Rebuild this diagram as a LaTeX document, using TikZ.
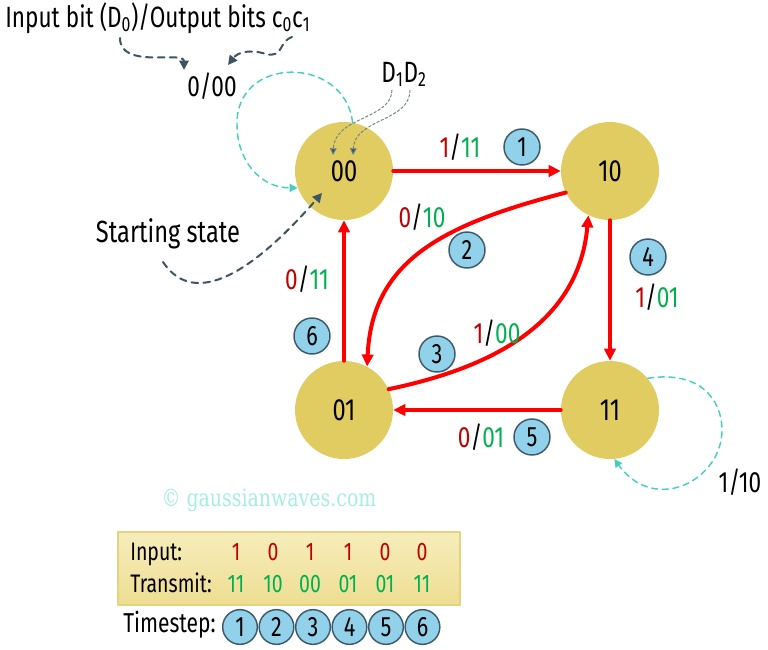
\documentclass[tikz,border=0pt]{standalone}
\usepackage{fontspec}
\setmainfont{Fira Sans}[FakeStretch=0.77]
\newfontfamily\markfont{DejaVu Serif}[FakeStretch=0.79]
\usetikzlibrary{arrows.meta}
\newcommand{\iobits}[2]{\textcolor{bitred}{#1}/\textcolor{bitgreen}{#2}}

\begin{document}
\begin{tikzpicture}[x=0.75pt,y=-0.75pt,line cap=round,line join=round,
  state/.style={circle,fill=statefill,minimum size=73.5pt,inner sep=0pt,font=\fontsize{23}{23}\selectfont},
  stepball/.style={circle,fill=stepfill,draw=stepedge,line width=1.1pt,minimum size=27pt,inner sep=0pt,font=\fontsize{21}{21}\selectfont},
  bits/.style={anchor=base,inner sep=0pt,font=\fontsize{22}{22}\selectfont},
  tabval/.style={anchor=base,inner sep=0pt,font=\fontsize{19}{19}\selectfont},
  trans/.style={draw=edgered,line width=3pt,-{Triangle[length=9pt,width=8.5pt]}},
  selfloop/.style={draw=loopcyan,line width=1.1pt,dash pattern=on 4.5pt off 3.5pt,-{Triangle[length=6pt,width=6pt]}},
  note/.style={draw=notegray,line width=1.5pt,dash pattern=on 5pt off 4pt,-{Triangle[length=7pt,width=7pt]}},
  regnote/.style={draw=notegray!75,line width=0.7pt,dash pattern=on 2pt off 1.5pt,-{Triangle[length=5pt,width=5pt,fill=notegray]}}]
\definecolor{statefill}{HTML}{E0CC60}
\definecolor{edgered}{HTML}{FF0000}
\definecolor{bitred}{HTML}{C00000}
\definecolor{bitgreen}{HTML}{00B050}
\definecolor{stepfill}{HTML}{92D1EA}
\definecolor{stepedge}{HTML}{3D5A6C}
\definecolor{loopcyan}{HTML}{45D0BE}
\definecolor{notegray}{HTML}{3D5461}
\definecolor{tabletop}{HTML}{F6EDBB}
\definecolor{tablebot}{HTML}{EEDD92}
\definecolor{tableedge}{HTML}{E3D27F}
\definecolor{markcyan}{HTML}{A6EDE2}

\useasboundingbox (0,0) rectangle (768,650);

% states
\node[state] (s00) at (344,171) {00};
\node[state] (s10) at (610,171) {10};
\node[state] (s01) at (344,410) {01};
\node[state] (s11) at (610,410) {11};

% transitions
\draw[trans] (s00) -- (s10);
\draw[trans] (s10) -- (s11);
\draw[trans] (s11) -- (s01);
\draw[trans] (s01) -- (s00);
\draw[trans] (s10.206) .. controls (440,225) and (372,262) .. (s01.62);
\draw[trans] (s01.25) .. controls (480,370) and (578,330) .. (s10.244);

% self loops
\draw[selfloop] (s00.80) .. controls (345,55) and (235,55) .. (237,125)
  .. controls (237,160) and (260,188) .. (s00.200);
\draw[selfloop] (s11.40) .. controls (700,370) and (722,400) .. (722,430)
  .. controls (722,480) and (655,515) .. (s11.-85);

% edge labels
\node[bits] (lab1) at (460,157) {\iobits{1}{11}};
\node[bits] (lab2) at (422,227) {\iobits{0}{10}};
\node[bits] (lab3) at (497,343) {\iobits{1}{00}};
\node[bits] (lab4) at (657,307) {\iobits{1}{01}};
\node[bits] (lab5) at (481,447) {\iobits{0}{01}};
\node[bits] (lab6) at (307,289) {\iobits{0}{11}};
\node[bits] (lab7) at (740,492) {1/10};
\node[bits] (lab8) at (212,96) {0/00};

% time steps on the edges
\foreach \n/\x/\y in {1/522/147,2/467/250,3/437/354,4/648/257,5/532/437,6/312/336}
  \node[stepball] (k\n) at (\x,\y) {\n};

% notes
\node[anchor=base west,inner sep=0pt,font=\fontsize{22}{22}\selectfont] (ttl) at (5,27)
  {Input bit (D\textsubscript{0})/Output bits c\textsubscript{0}c\textsubscript{1}};
\node[bits] (dlbl) at (404,82) {D\textsubscript{1}D\textsubscript{2}};
\node[anchor=base,inner sep=0pt,font=\fontsize{23}{23}\selectfont] (startlbl) at (168,242) {Starting state};

\coordinate (d0foot) at (120,38);
\coordinate (c1foot) at (292,37);
\coordinate (tip0) at (184,70);
\coordinate (tip1) at (228,65);
\coordinate (d1in) at (333,155);
\coordinate (d2in) at (353,155);
\coordinate (startin) at (322,193);

\draw[note] (d0foot) .. controls (120,70) and (184,50) .. (tip0);
\draw[note] (c1foot) .. controls (278,42) and (284,58) .. (266,54)
  .. controls (250,49) and (238,52) .. (tip1);
\draw[note] ([shift={(-5,20)}]startlbl.base) .. controls (195,310) and (255,270) .. (startin);
\draw[regnote] ([shift={(-12,8)}]dlbl.base) .. controls (391,120) and (335,116) .. (d1in);
\draw[regnote] ([shift={(6,8)}]dlbl.base) .. controls (410,122) and (355,118) .. (d2in);

% watermark
\node[text=markcyan,font=\markfont\fontsize{18}{18}\selectfont,anchor=base] (mark) at (269,506) {\textcopyright{} gaussianwaves.com};

% table
\shade[top color=tabletop,bottom color=tablebot,draw=tableedge,line width=0.8pt]
  (118,532) rectangle (460,605);
\node[tabval,anchor=base west] (inlbl) at (130,560) {Input:};
\node[tabval,anchor=base west] (outlbl) at (130,592) {Transmit:};
\foreach \i/\x/\inbit/\outbits in {1/236/1/11,2/273/0/10,3/310/1/00,4/348/1/01,5/385/0/01,6/422/0/11} {
  \node[tabval,text=bitred] (in\i) at (\x,560) {\inbit};
  \node[tabval,text=bitgreen] (out\i) at (\x,592) {\outbits};
}
\node[anchor=base west,inner sep=0pt,font=\fontsize{20.5}{20.5}\selectfont] (tslbl) at (123,632) {Timestep:};
\foreach \i in {1,...,6}
  \node[stepball,minimum size=26pt] (ts\i) at ({240+36.5*(\i-1)},627) {\i};
\end{tikzpicture}
\end{document}
